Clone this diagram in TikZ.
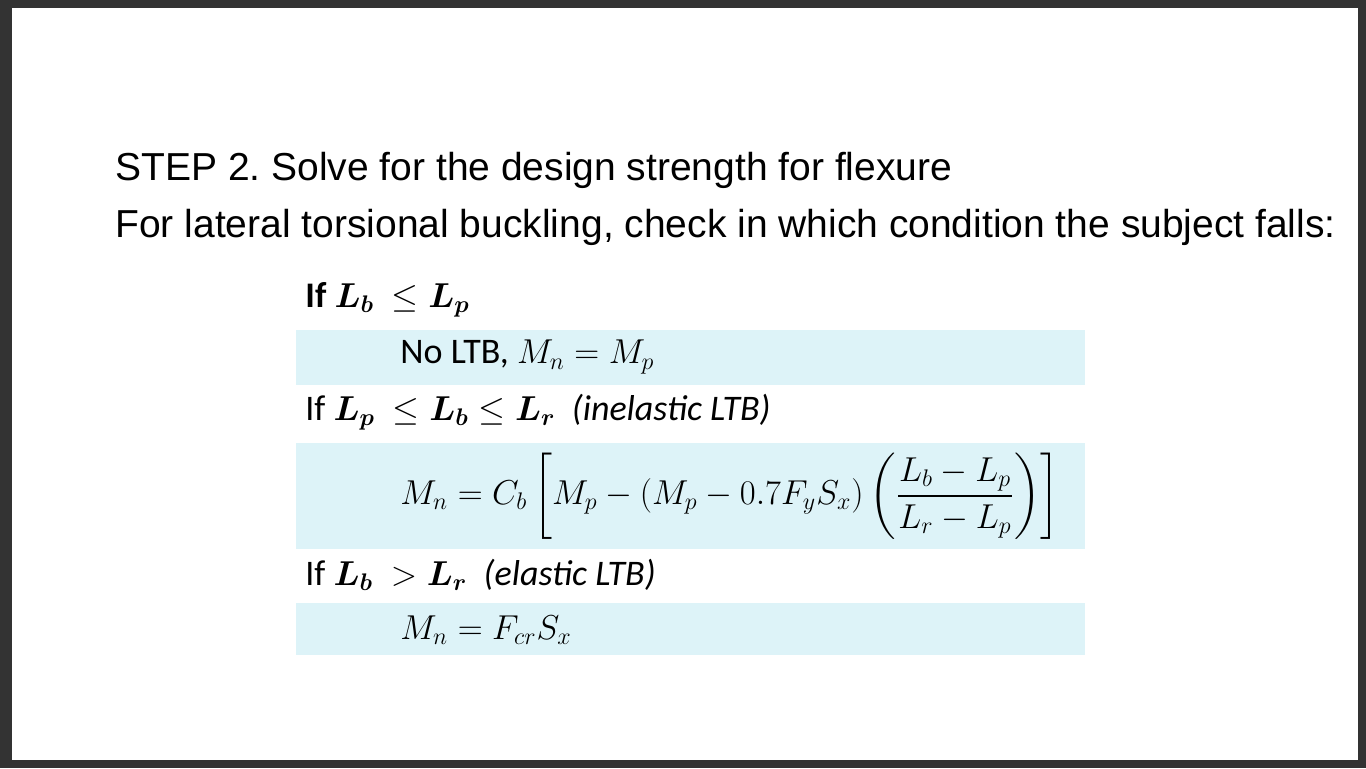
\documentclass[tikz,border=0pt]{standalone}
\usepackage{amsmath,amssymb}
\usepackage{fontspec}
\setmainfont{Carlito}
\newfontfamily\titlefont{Liberation Sans}
\frenchspacing
\definecolor{band}{HTML}{DDF3F8}
\definecolor{frame}{HTML}{333333}
\begin{document}
\begin{tikzpicture}[x=0.5pt,y=-0.5pt,
  tl/.style={anchor=base west,inner sep=0,font=\titlefont\fontsize{19.5}{22}\selectfont},
  fl/.style={anchor=west,inner sep=0,font=\fontsize{18}{22}\selectfont}]
\fill[frame] (0,0) rectangle (1366,768);
\fill[white] (12,8) rectangle (1358,760);
\useasboundingbox (0,0) rectangle (1366,768);
\node[tl] (t1) at (115,180) {STEP 2. Solve for the design strength for flexure};
\node[tl] (t2) at (115,237) {For lateral torsional buckling, check in which condition the subject falls:};
\fill[band] (296,330) rectangle (1085,385);
\fill[band] (296,443) rectangle (1085,549);
\fill[band] (296,603) rectangle (1085,655);
\node[fl] (c1) at (305,300) {\textbf{If} $\boldsymbol{L_b}\ \le \boldsymbol{L_p}$};
\node[fl] (r1) at (400,357) {No LTB, $M_n = M_p$};
\node[fl] (c2) at (305,412) {If $\boldsymbol{L_p}\ \le \boldsymbol{L_b} \le \boldsymbol{L_r}$ \ \textit{(inelastic LTB)}};
\node[fl] (r2) at (400,496) {$M_n = C_b\left[M_p-\left(M_p-0.7F_yS_x\right)\left(\dfrac{L_b-L_p}{L_r-L_p}\right)\right]$};
\node[fl] (c3) at (305,575) {If $\boldsymbol{L_b}\ > \boldsymbol{L_r}$ \ \textit{(elastic LTB)}};
\node[fl] (r3) at (400,630) {$M_n = F_{cr}S_x$};
\end{tikzpicture}
\end{document}
